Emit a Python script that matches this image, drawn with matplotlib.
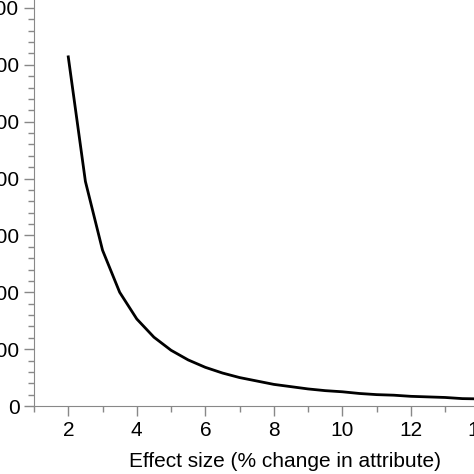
import matplotlib
matplotlib.use("Agg")
import matplotlib.pyplot as plt
from matplotlib.ticker import MultipleLocator

effect = [2, 2.5, 3, 3.5, 4, 4.5, 5, 5.5, 6, 6.5, 7, 7.5, 8, 8.5, 9, 9.5, 10,
          10.5, 11, 11.5, 12, 12.5, 13, 13.5, 14, 14.5, 15, 15.5]
n = [614, 395, 274, 200, 153, 121, 98, 81, 68, 58, 50, 44, 38, 34, 30, 27, 25,
     22, 20, 19, 17, 16, 15, 13, 12.5, 11.7, 11, 10.2]

plt.rcParams['font.family'] = ['Liberation Sans', 'DejaVu Sans']
fig = plt.figure(figsize=(4.74, 4.74), dpi=100)
ax = fig.add_axes([34/474, 68/474, 502/474, 406/474])
ax.plot(effect, n, color='black', lw=2)
ax.set_xlim(1, 15.65)
ax.set_ylim(0, 714)
ax.xaxis.set_major_locator(MultipleLocator(2))
ax.xaxis.set_minor_locator(MultipleLocator(1))
ax.yaxis.set_major_locator(MultipleLocator(100))
ax.yaxis.set_minor_locator(MultipleLocator(20))
for s in ['top', 'right']:
    ax.spines[s].set_visible(False)
for s in ['left', 'bottom']:
    ax.spines[s].set_color('#888888')
ax.tick_params(which='major', length=7, color='#888888', labelsize=15, width=1)
ax.tick_params(which='minor', length=4, color='#888888', width=1)
ax.set_xlabel('Effect size (% change in attribute)', fontsize=15, labelpad=9)
fig.savefig('out.png', dpi=100)
